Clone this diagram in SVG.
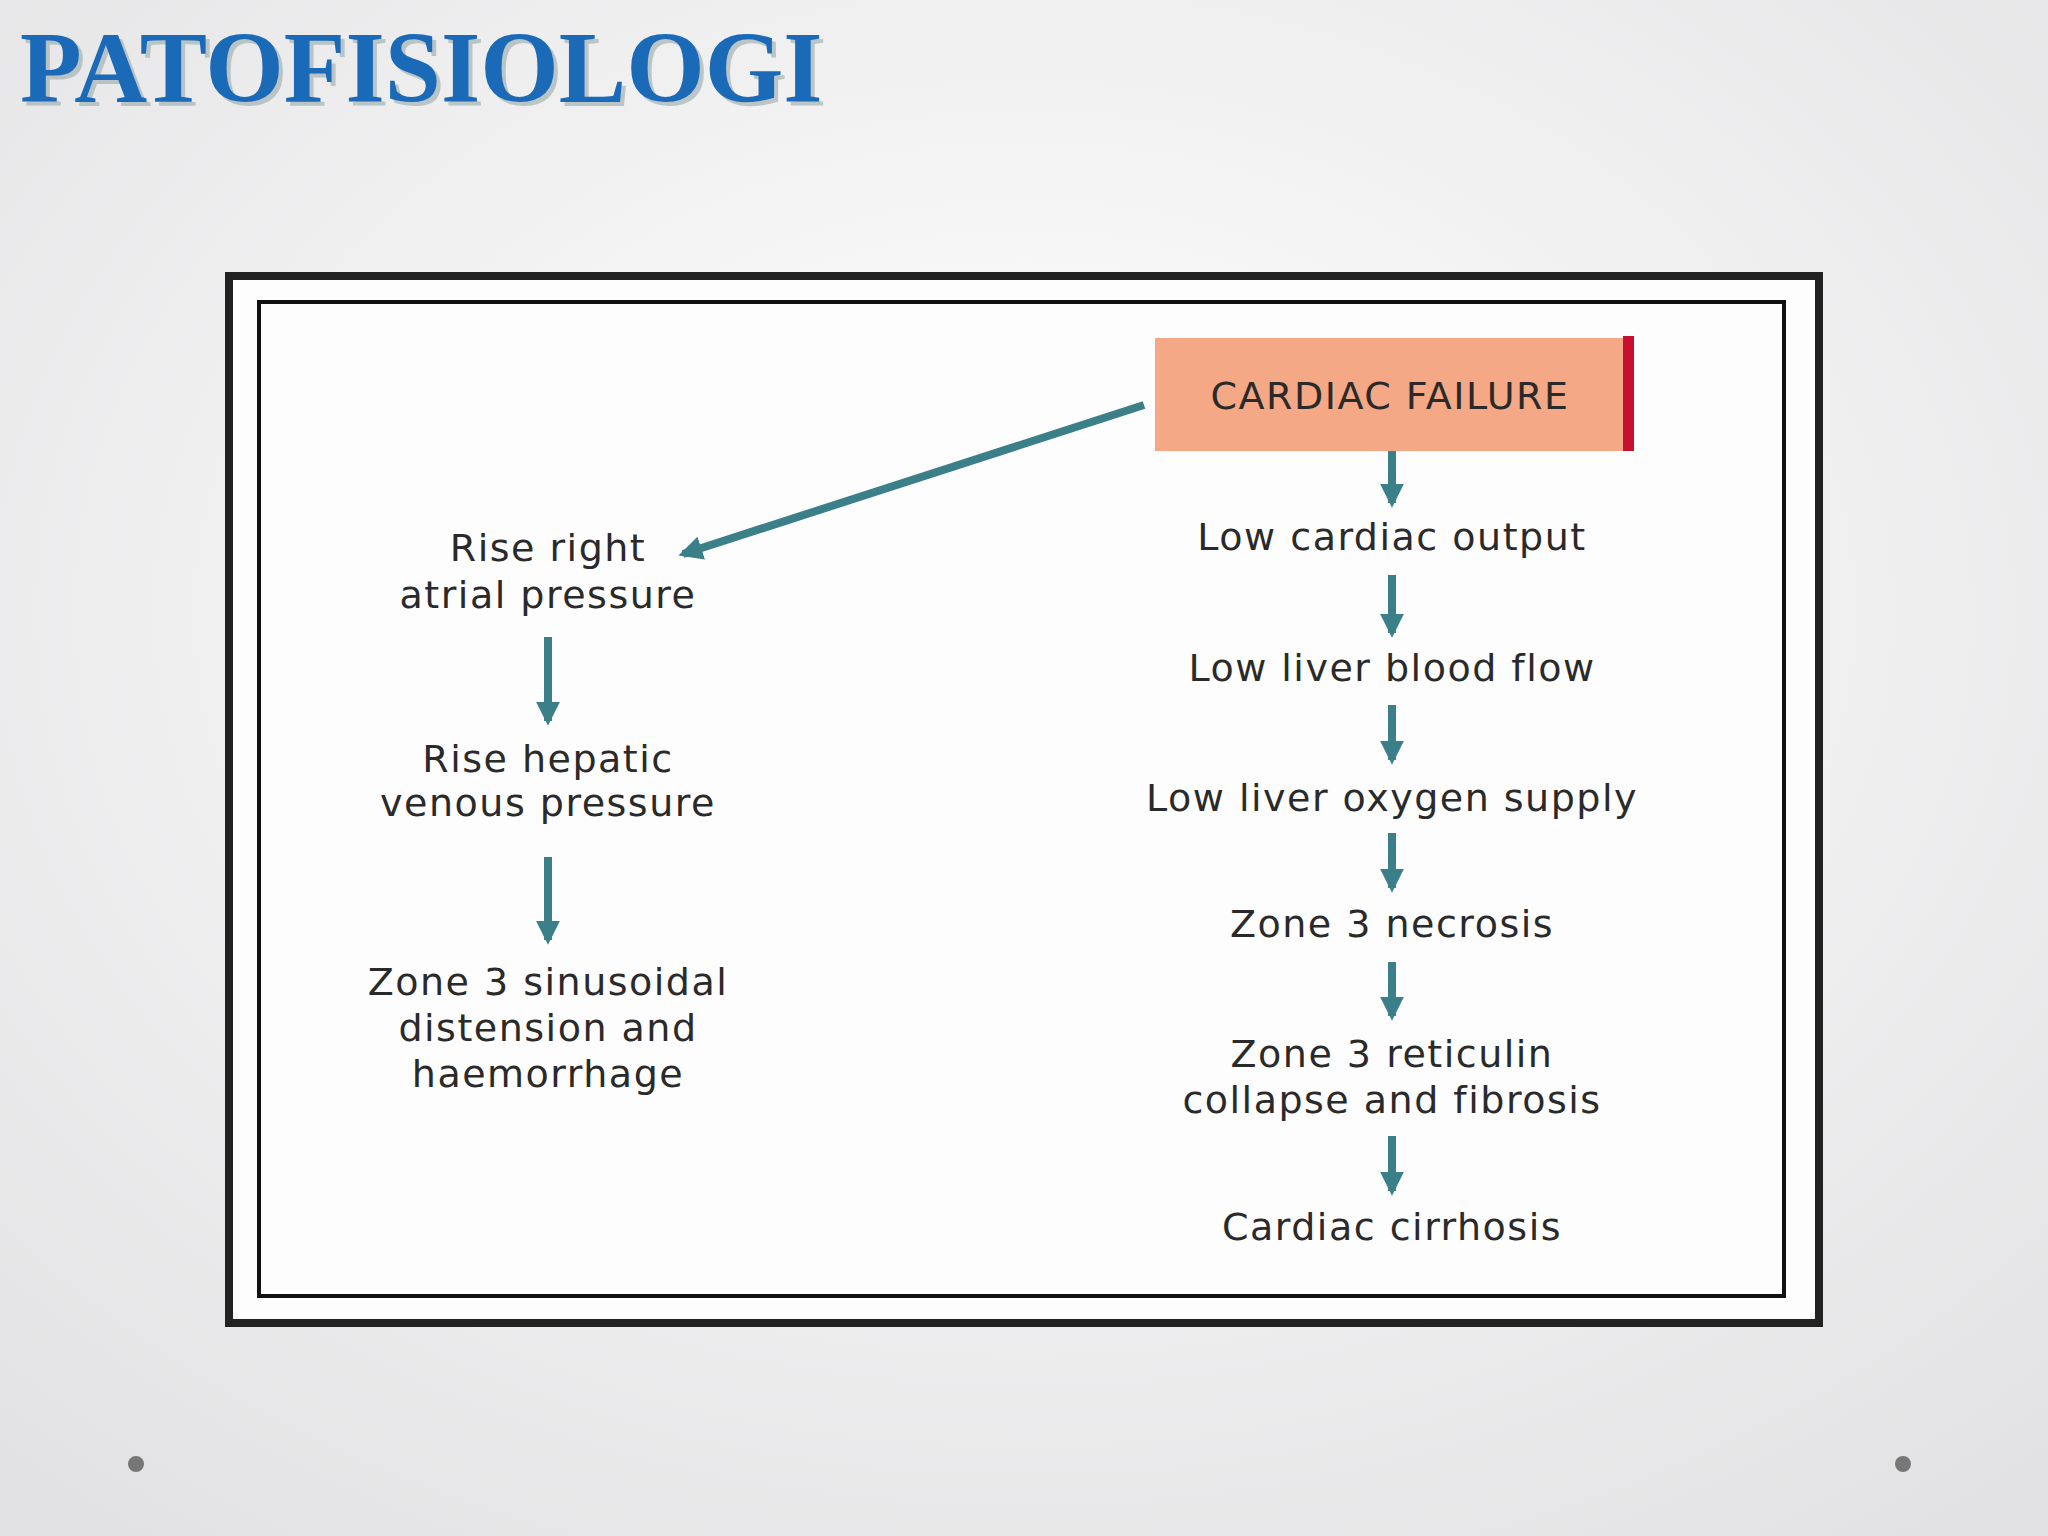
<svg xmlns="http://www.w3.org/2000/svg" width="2048" height="1536" viewBox="0 0 2048 1536">
<defs>
<radialGradient id="bg" cx="50%" cy="40%" r="75%"><stop offset="0" stop-color="#ffffff"/><stop offset="1" stop-color="#e2e2e4"/></radialGradient>
<marker id="ah" viewBox="0 0 10 10" refX="8" refY="5" markerWidth="3" markerHeight="3" orient="auto"><path d="M0,0 L10,5 L0,10 Z" fill="#3b8088"/></marker>
<style>
.t{font-family:"DejaVu Sans",Verdana,sans-serif;font-size:38px;letter-spacing:1.5px;fill:#2a2a2a;text-anchor:middle}
.c{stroke:#3b8088;stroke-width:8;fill:none;marker-end:url(#ah)}
</style>
</defs>
<rect width="2048" height="1536" fill="url(#bg)"/>
<text x="20" y="102" font-family="Liberation Serif,serif" font-weight="bold" font-size="101" fill="#9aa" opacity="0.6" transform="translate(4,4)">PATOFISIOLOGI</text>
<text x="20" y="102" font-family="Liberation Serif,serif" font-weight="bold" font-size="101" fill="#1a6ab8">PATOFISIOLOGI</text>
<rect x="229" y="276" width="1590" height="1047" fill="#fdfdfd" stroke="#222" stroke-width="8"/>
<rect x="259" y="302" width="1525" height="994" fill="none" stroke="#111" stroke-width="4"/>
<g id="connectors">
<line class="c" x1="1144" y1="405" x2="683" y2="554"/>
<line class="c" x1="548" y1="637" x2="548" y2="721"/>
<line class="c" x1="548" y1="857" x2="548" y2="940"/>
<line class="c" x1="1392" y1="451" x2="1392" y2="503"/>
<line class="c" x1="1392" y1="575" x2="1392" y2="633"/>
<line class="c" x1="1392" y1="705" x2="1392" y2="760"/>
<line class="c" x1="1392" y1="833" x2="1392" y2="888"/>
<line class="c" x1="1392" y1="962" x2="1392" y2="1016"/>
<line class="c" x1="1392" y1="1136" x2="1392" y2="1191"/>
</g>
<g id="cardiac"><rect x="1155" y="338" width="479" height="113" fill="#f5a885"/><rect x="1623" y="336" width="11" height="115" fill="#c8102e"/><text class="t" x="1390" y="398" dominant-baseline="middle">CARDIAC FAILURE</text></g>
<g id="n1"><text class="t" x="1392" y="550">Low cardiac output</text></g>
<g id="n2"><text class="t" x="1392" y="681">Low liver blood flow</text></g>
<g id="n3"><text class="t" x="1392" y="811">Low liver oxygen supply</text></g>
<g id="n4"><text class="t" x="1392" y="937">Zone 3 necrosis</text></g>
<g id="n5"><text class="t" x="1392" y="1067">Zone 3 reticulin</text><text class="t" x="1392" y="1113">collapse and fibrosis</text></g>
<g id="n6"><text class="t" x="1392" y="1240">Cardiac cirrhosis</text></g>
<g id="l1"><text class="t" x="548" y="561">Rise right</text><text class="t" x="548" y="608">atrial pressure</text></g>
<g id="l2"><text class="t" x="548" y="772">Rise hepatic</text><text class="t" x="548" y="816">venous pressure</text></g>
<g id="l3"><text class="t" x="548" y="995">Zone 3 sinusoidal</text><text class="t" x="548" y="1041">distension and</text><text class="t" x="548" y="1087">haemorrhage</text></g>
<circle cx="136" cy="1464" r="8" fill="#777"/><circle cx="1903" cy="1464" r="8" fill="#777"/>
</svg>
